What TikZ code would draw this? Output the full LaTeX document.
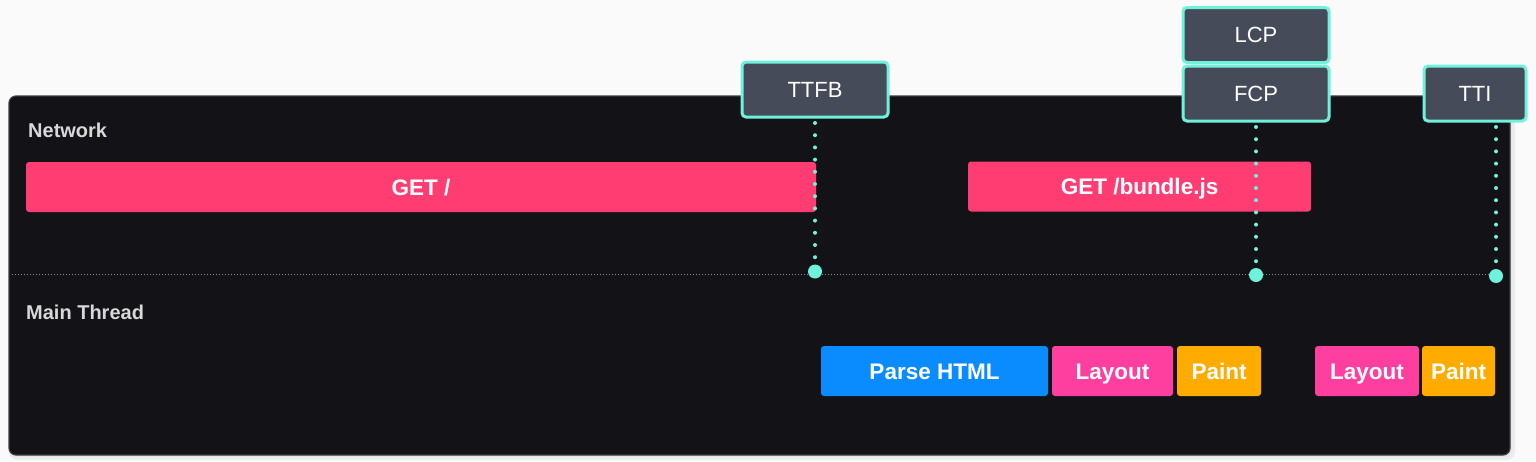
\documentclass[tikz,border=0pt]{standalone}
\usepackage{fontspec}
\setmainfont{Liberation Sans}
\definecolor{bgc}{HTML}{FAFAFA}
\definecolor{panel}{HTML}{131317}
\definecolor{panelborder}{HTML}{3C3C40}
\definecolor{netred}{HTML}{FF3D73}
\definecolor{parseblue}{HTML}{0A8CFF}
\definecolor{layoutpink}{HTML}{FF3FA0}
\definecolor{paintorange}{HTML}{FFAB00}
\definecolor{markfill}{HTML}{454B58}
\definecolor{turq}{HTML}{6EF2DC}
\definecolor{labelgray}{HTML}{D8D8D8}
\definecolor{linegray}{HTML}{8A8A8A}
\tikzset{
  x=1pt, y=-1pt,
  bar/.style={rectangle, rounded corners=3pt, inner sep=0pt, outer sep=0pt,
    minimum height=50pt, text=white, text height=16pt, text depth=0pt,
    font=\fontsize{22.5}{26}\selectfont\bfseries},
  marker/.style={rectangle, rounded corners=4pt, draw=turq, line width=3pt,
    fill=markfill, inner sep=0pt, outer sep=0pt, minimum width=146pt,
    minimum height=55pt, text=white, text height=15.8pt, text depth=0pt,
    font=\fontsize{22}{26}\selectfont},
  tracklabel/.style={anchor=west, inner sep=0pt, text=labelgray,
    font=\fontsize{20}{24}\selectfont\bfseries},
  markdot/.style={circle, fill=turq, inner sep=0pt, minimum size=14pt},
  vdots/.style={turq, line width=4pt, line cap=round, dash pattern=on 0pt off 12.2pt},
  hdots/.style={linegray, line width=1pt, dash pattern=on 1.2pt off 1.8pt},
}
\begin{document}
\begin{tikzpicture}
\useasboundingbox (0,0) rectangle (1536,461);
\fill[bgc] (0,0) rectangle (1536,461);
% shadow
\fill[black!7, rounded corners=8pt] (9,98) rectangle (1515,460);
\fill[black!10, rounded corners=7pt] (9,97) rectangle (1512,457);
% panel
\draw[fill=panel, draw=panelborder, line width=1.2pt, rounded corners=7pt] (9,96) rectangle (1510,455);

\node[tracklabel] (net) at (28,130) {Network};
\node[tracklabel] (main) at (26,312) {Main Thread};

% separator
\coordinate (sepL) at (12,274);
\coordinate (sepR) at (1502,274);
\draw[hdots] (sepL) -- (sepR);

% network bars
\node[bar, fill=netred, minimum width=790pt] (get) at (421,187) {GET /};
\node[bar, fill=netred, minimum width=343pt] (bundle) at (1139.5,186.5) {GET /bundle.js};

% main thread
\node[bar, fill=parseblue, minimum width=227pt] (parse) at (934.5,371) {Parse HTML};
\node[bar, fill=layoutpink, minimum width=121pt] (layout1) at (1112.5,371) {Layout};
\node[bar, fill=paintorange, minimum width=84pt] (paint1) at (1219,371) {Paint};
\node[bar, fill=layoutpink, minimum width=104pt] (layout2) at (1367,371) {Layout};
\node[bar, fill=paintorange, minimum width=73pt] (paint2) at (1458.5,371) {Paint};

% markers
\node[marker] (ttfb) at (815,89.5) {TTFB};
\node[marker] (lcp) at (1256,35) {LCP};
\node[marker] (fcp) at (1256,93.5) {FCP};
\node[marker, minimum width=102pt] (tti) at (1475,93.5) {TTI};

% dots
\node[markdot] (d1) at (815,271.5) {};
\node[markdot] (d2) at (1256,275) {};
\node[markdot] (d3) at (1496,276) {};

% dotted connectors
\draw[vdots] ([yshift=-6pt]ttfb.south) -- (d1.north);
\draw[vdots] ([yshift=-6pt]fcp.south) -- (d2.north);
\draw[vdots] ([yshift=-6pt]tti.south -| d3) -- (d3.north);
\end{tikzpicture}
\end{document}
